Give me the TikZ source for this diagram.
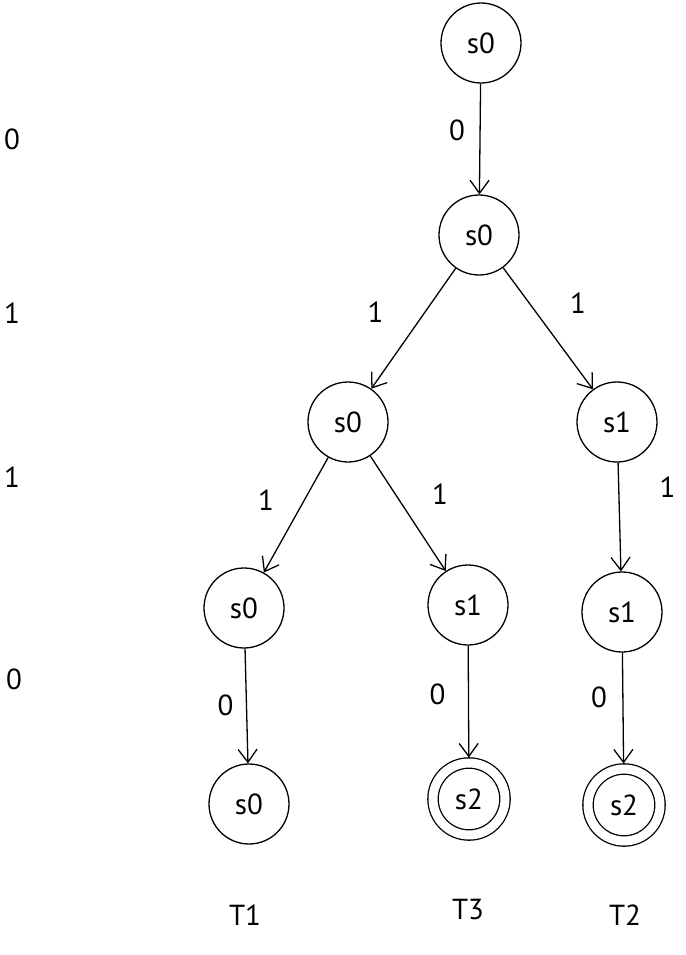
\documentclass[tikz,border=0pt]{standalone}
\usepackage{fontspec}
\setmainfont{PT Sans}
\usetikzlibrary{arrows.meta}
\begin{document}
\begin{tikzpicture}[x=1pt, y=-1pt, line width=1.3pt,
	every node/.style={font=\fontsize{29}{32}\selectfont},
	state/.style={draw, circle, minimum size=80pt, inner sep=0pt},
	accepting/.style={state, double, double distance=9pt, minimum size=72pt, outer sep=5.5pt},
	elab/.style={inner sep=1pt},
	edge/.style={-{Straight Barb[length=13pt, width=19pt]}}]
	\useasboundingbox (0,0) rectangle (685,955);
	
	% tree
	\node [state] (r) at (481,43) {s0};
	\node [state] (a) at (479,235) {s0};
	
	\node [state] (b) at (348,422) {s0};
	\node [state] (c) at (617,422) {s1};
	
	\node [state] (d) at (244,608) {s0};
	\node [state] (e) at (468,605) {s1};
	\node [state] (f) at (622,612) {s1};
	
	\node [state] (g) at (249,804) {s0};
	\node [accepting] (h) at (469,799) {s2};
	\node [accepting] (k) at (624,805) {s2};
	
	\draw[edge] (r)--(a) node[elab, midway, xshift=-23pt, yshift=9pt] (l1) {0};
	\draw[edge] (a)--(b) node[elab, midway, xshift=-38pt, yshift=16pt] (l2) {1};
	\draw[edge] (a)--(c) node[elab, midway, xshift=30pt, yshift=25pt] (l3) {1};
	\draw[edge] (b)--(d) node[elab, midway, xshift=-30pt, yshift=15pt] (l4) {1};
	\draw[edge] (b)--(e) node[elab, midway, xshift=32pt, yshift=19pt] (l5) {1};
	\draw[edge] (c)--(f) node[elab, midway, xshift=48pt, yshift=30pt] (l6) {1};
	\draw[edge] (d)--(g) node[elab, midway, xshift=-21pt, yshift=1pt] (l7) {0};
	\draw[edge] (e)--(h) node[elab, midway, xshift=-31pt, yshift=7pt] (l8) {0};
	\draw[edge] (f)--(k) node[elab, midway, xshift=-24pt, yshift=11pt] (l9) {0};
	
	% input column
	\node (i1) at (12,139) {0};
	\node (i2) at (12,313) {1};
	\node (i3) at (12,477) {1};
	\node (i4) at (14,679) {0};
	
	% traces
	\node (t1) at (245,915) {T1};
	\node (t3) at (468,910) {T3};
	\node (t2) at (625,915) {T2};
\end{tikzpicture}
\end{document}
